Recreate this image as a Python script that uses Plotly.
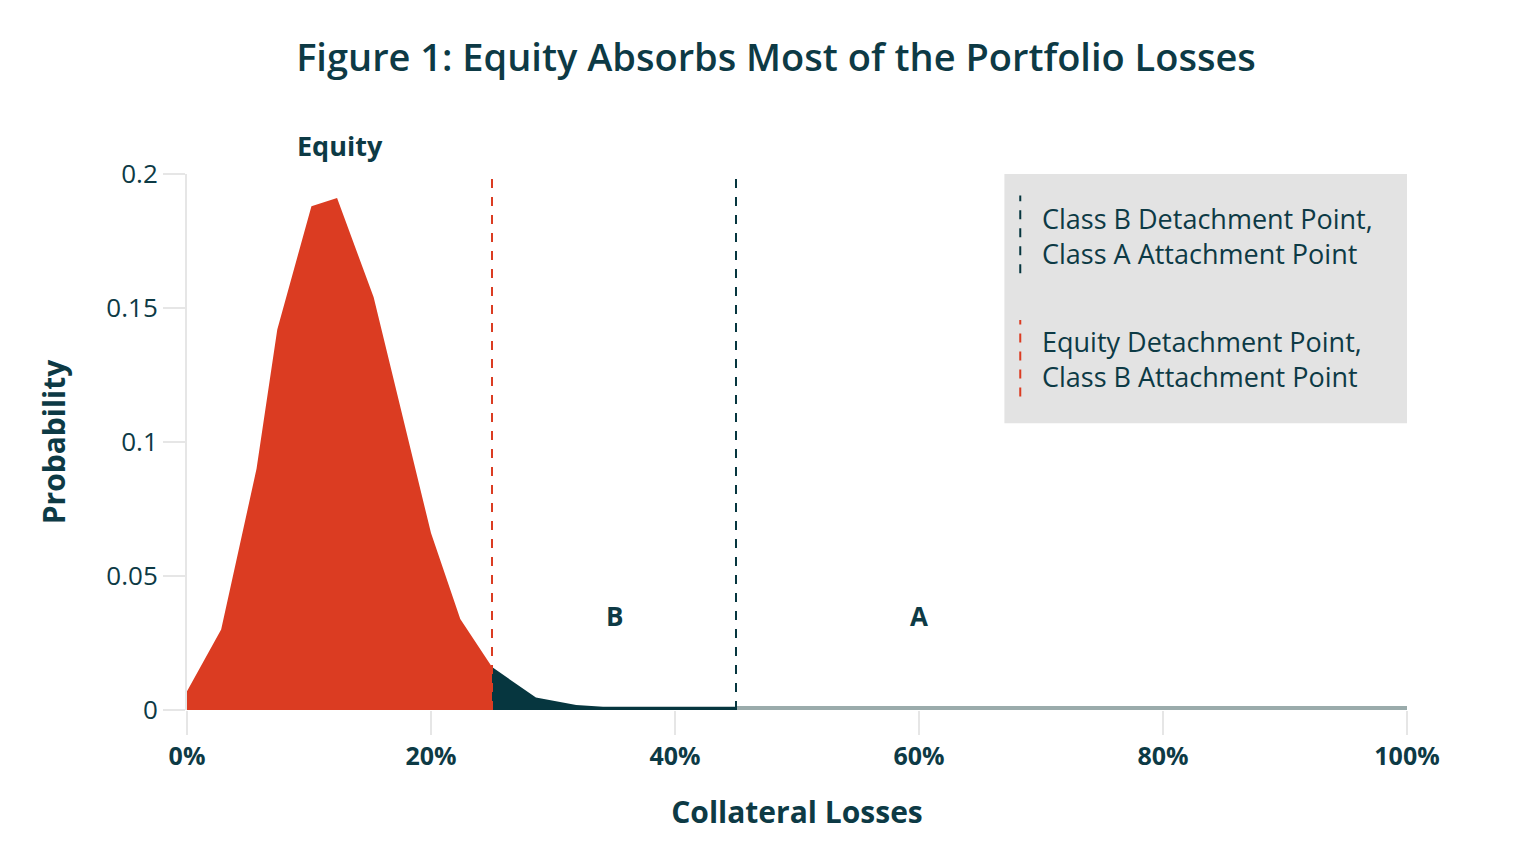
# Import Modules
import plotly.graph_objs as go

# Data
equity_x = [0, 2.8, 5.7, 7.4, 10.2, 12.3, 15.3, 20.0, 22.4, 25.0]
equity_y = [0.007, 0.030, 0.090, 0.142, 0.188, 0.191, 0.154, 0.066, 0.034, 0.016]
class_b_x = [25.0, 28.6, 31.9, 34.1, 45.0]
class_b_y = [0.016, 0.0047, 0.0019, 0.0012, 0.0012]
class_a_x = [45.0, 100.0]
class_a_y = [0.0015, 0.0015]

equity_detach = 25.0
class_b_detach = 45.0

x_ticks = [0, 20, 40, 60, 80, 100]
x_tick_labels = ['0%', '20%', '40%', '60%', '80%', '100%']
y_ticks = [0, 0.05, 0.1, 0.15, 0.2]
y_tick_labels = ['0', '0.05', '0.1', '0.15', '0.2']

# Colours
RED = '#db3c22'
DARK = '#06363f'
GREY = '#9aabab'
TEXT = '#0d3a45'
FONT = 'Open Sans'

# Create traces
traces = [
    go.Scatter(x=equity_x, y=equity_y, mode='lines', fill='tozeroy',
               line=dict(color=RED, width=0), fillcolor=RED, hoverinfo='skip'),
    go.Scatter(x=class_b_x, y=class_b_y, mode='lines', fill='tozeroy',
               line=dict(color=DARK, width=0), fillcolor=DARK, hoverinfo='skip'),
    go.Scatter(x=class_a_x, y=class_a_y, mode='lines', fill='tozeroy',
               line=dict(color=GREY, width=0), fillcolor=GREY, hoverinfo='skip'),
]

# Shapes: attachment lines and legend box
shapes = [
    dict(type='line', x0=equity_detach, x1=equity_detach, y0=0, y1=0.2,
         line=dict(color=RED, width=2, dash='dash')),
    dict(type='line', x0=class_b_detach, x1=class_b_detach, y0=0, y1=0.2,
         line=dict(color=DARK, width=2, dash='dash')),
    dict(type='rect', x0=67.0, x1=100, y0=0.107, y1=0.2,
         fillcolor='#e3e3e3', line=dict(width=0), layer='below'),
    dict(type='line', x0=68.3, x1=68.3, y0=0.163, y1=0.192,
         line=dict(color=DARK, width=2, dash='dash')),
    dict(type='line', x0=68.3, x1=68.3, y0=0.117, y1=0.1455,
         line=dict(color=RED, width=2, dash='dash')),
]

annotations = [
    dict(x=12.5, y=0.2, yshift=29, text='<b>Equity</b>', showarrow=False,
         font=dict(size=27, color=TEXT)),
    dict(x=35, y=0.035, text='<b>B</b>', showarrow=False,
         font=dict(size=26, color=TEXT)),
    dict(x=60, y=0.035, text='<b>A</b>', showarrow=False,
         font=dict(size=26, color=TEXT)),
    dict(x=69.9, y=0.177, text='Class B Detachment Point,<br>Class A Attachment Point',
         showarrow=False, xanchor='left', align='left',
         font=dict(size=27, color=TEXT, weight=500)),
    dict(x=69.9, y=0.131, text='Equity Detachment Point,<br>Class B Attachment Point',
         showarrow=False, xanchor='left', align='left',
         font=dict(size=27, color=TEXT, weight=500)),
]

# Create layout
layout = go.Layout(
    width=1536, height=864,
    paper_bgcolor='white', plot_bgcolor='white',
    font=dict(family=FONT, color=TEXT),
    showlegend=False,
    margin=dict(l=179, r=137, t=166, b=162),
    title=dict(text='Figure 1: Equity Absorbs Most of the Portfolio Losses',
               x=0.5, xanchor='center', y=0.943, yanchor='middle',
               font=dict(size=38, color=TEXT, weight=600)),
    xaxis=dict(range=[0, 100], tickvals=x_ticks, ticktext=['<b>%s</b>' % t for t in x_tick_labels],
               showgrid=False, zeroline=False, showline=False,
               ticks='outside', ticklen=24, tickcolor='#e6e6e6', tickwidth=2,
               tickfont=dict(size=25, color=TEXT),
               title=dict(text='<b>Collateral Losses</b>', font=dict(size=30, color=TEXT), standoff=30)),
    yaxis=dict(range=[0, 0.2], tickvals=y_ticks, ticktext=y_tick_labels,
               showgrid=False, zeroline=False, showline=True, linecolor='#e6e6e6', linewidth=2,
               ticks='outside', ticklen=22, tickcolor='#e6e6e6', tickwidth=2,
               tickfont=dict(size=26, color=TEXT),
               title=dict(text='<b>Probability</b>', font=dict(size=30, color=TEXT), standoff=32)),
    shapes=shapes,
    annotations=annotations,
)

# Create plot
fig = go.Figure(data=traces, layout=layout)
fig.write_html('out.html')
